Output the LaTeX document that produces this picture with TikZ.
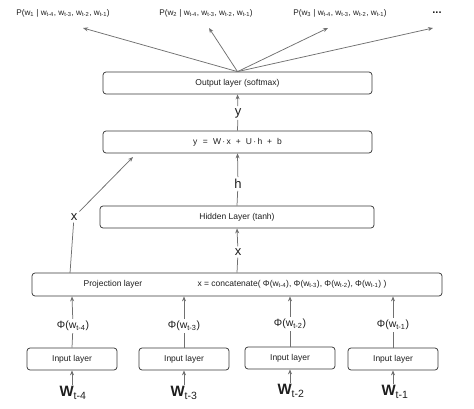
\documentclass[tikz,border=0pt]{standalone}
\usepackage{fontspec}
\setmainfont{Liberation Sans}
\usetikzlibrary{arrows.meta}
\definecolor{bord}{HTML}{3A3A3A}
\definecolor{arrc}{HTML}{707070}
\definecolor{txt}{HTML}{1E1E1E}
\begin{document}
\begin{tikzpicture}[x=1pt,y=-1pt,
  box/.style={draw=bord, rounded corners=3pt, line width=0.75pt, inner sep=0pt, minimum height=22pt, text=txt, font=\fontsize{8.5}{10}\selectfont},
  arr/.style={-{Stealth[length=5pt,width=4pt]}, draw=arrc, line width=0.75pt},
  toplbl/.style={text=txt, font=\fontsize{8.2}{10}\selectfont, inner sep=1pt},
  biglbl/.style={text=txt, font=\fontsize{13}{14}\selectfont, inner sep=2pt, fill=white},
  philbl/.style={text=txt, font=\fontsize{10.5}{12}\selectfont, inner sep=2pt, fill=white},
  wlbl/.style={text=txt, font=\fontsize{15}{16}\selectfont, inner sep=1pt},
  intext/.style={text=txt, font=\fontsize{8.5}{10}\selectfont, inner sep=0pt}
]
\useasboundingbox (0,0) rectangle (474,408);

% top labels
\node[toplbl] (p1) at (63,13) {P(w\textsubscript{1} | w\textsubscript{t-4}, w\textsubscript{t-3}, w\textsubscript{t-2}, w\textsubscript{t-1})};
\node[toplbl] (p2) at (206,13) {P(w\textsubscript{2} | w\textsubscript{t-4}, w\textsubscript{t-3}, w\textsubscript{t-2}, w\textsubscript{t-1})};
\node[toplbl] (p3) at (340,13) {P(w\textsubscript{3} | w\textsubscript{t-4}, w\textsubscript{t-3}, w\textsubscript{t-2}, w\textsubscript{t-1})};
\node[toplbl, font=\fontsize{11}{12}\selectfont\bfseries] (p4) at (437,13) {...};
\coordinate (t1) at (83,28);
\coordinate (t2) at (209,28);
\coordinate (t3) at (328,28);
\coordinate (t4) at (433,28);

% boxes
\node[box, minimum width=269pt] (out) at (237.5,83) {Output layer (softmax)};
\node[box, minimum width=269pt] (eq) at (237.5,142) {y \hspace{0.35em}=\hspace{0.35em} W\,·\,x \hspace{0.3em}+\hspace{0.3em} U\,·\,h \hspace{0.3em}+\hspace{0.3em} b};
\node[box, minimum width=274pt] (hid) at (237,217) {Hidden Layer (tanh)};
\node[box, minimum width=410pt, minimum height=23pt] (proj) at (237,284.5) {};
\node[intext] (projt) at (113,284) {Projection layer};
\node[intext] (cat) at (292,284) {x = concatenate( Φ(w\textsubscript{t-4}), Φ(w\textsubscript{t-3}), Φ(w\textsubscript{t-2}), Φ(w\textsubscript{t-1}) )};

\node[box, minimum width=90pt] (in1) at (72,359) {Input layer};
\node[box, minimum width=90pt] (in2) at (184,359) {Input layer};
\node[box, minimum width=90pt] (in3) at (290,358) {Input layer};
\node[box, minimum width=90pt] (in4) at (393,359) {Input layer};

% W labels
\node[wlbl] (w1) at (73,393) {\textbf{W}\textsubscript{t-4}};
\node[wlbl] (w2) at (184,393) {\textbf{W}\textsubscript{t-3}};
\node[wlbl] (w3) at (291,391) {\textbf{W}\textsubscript{t-2}};
\node[wlbl] (w4) at (395,392) {\textbf{W}\textsubscript{t-1}};

% Phi labels
\node[philbl] (f1) at (73,326) {Φ(w\textsubscript{t-4})};
\node[philbl] (f2) at (184,326) {Φ(w\textsubscript{t-3})};
\node[philbl] (f3) at (290,324) {Φ(w\textsubscript{t-2})};
\node[philbl] (f4) at (393,325) {Φ(w\textsubscript{t-1})};

% middle labels
\node[biglbl] (ly) at (238,113) {y};
\node[biglbl] (lh) at (238,184) {h};
\node[biglbl] (lx) at (238,252) {x};
\node[biglbl] (lx2) at (74,217) {x};
\coordinate (xs) at (70,273);
\coordinate (xt) at (133,157);

% connectors
\foreach \t in {t1,t2,t3,t4} \draw[arr] (out.north) -- (\t);
\draw[arr] (eq.north) -- (ly) -- (out.south);
\draw[arr] (hid.north) -- (lh) -- (eq.south);
\draw[arr] (proj.north) -- (lx) -- (hid.south);
\draw[arr] (xs) -- (lx2) -- (xt);
\foreach \i in {1,2,3,4} {
  \draw[arr] (in\i.north) -- (f\i) -- (in\i.north |- proj.south);
  \draw[arr] (w\i.north -| in\i.south) -- (in\i.south);
}
\end{tikzpicture}
\end{document}
